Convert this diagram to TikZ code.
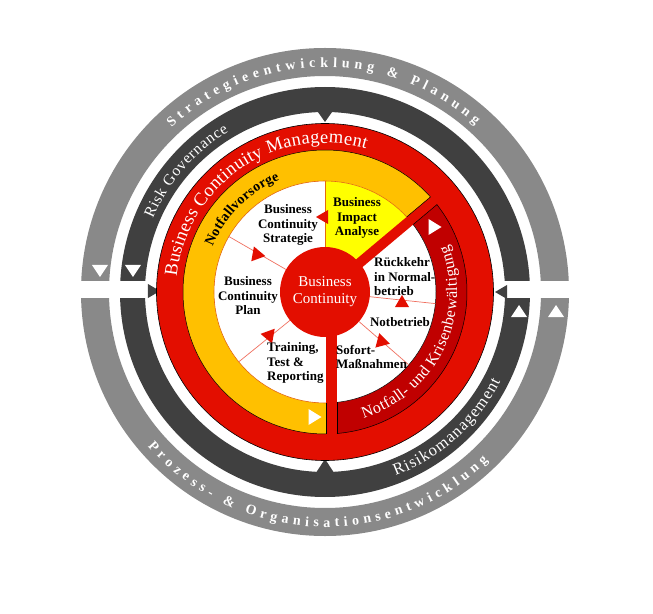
\documentclass[tikz,border=0pt]{standalone}
\usepackage{fontspec}
\setmainfont{Liberation Serif}
\usetikzlibrary{decorations.text}
\definecolor{ringgray}{HTML}{898989}
\definecolor{ringdark}{HTML}{404040}
\definecolor{bcred}{HTML}{E30E00}
\definecolor{bcorange}{HTML}{FFC000}
\definecolor{bcyellow}{HTML}{FFFF00}
\definecolor{bcdark}{HTML}{C00000}
\definecolor{secline}{HTML}{F07060}
\definecolor{orline}{HTML}{E46C0A}
\newcommand\bctri[6]{\fill[#6, shift={(#1,#2)}, rotate=#3] (#4/2,0) -- (-#4/2,#5) -- (-#4/2,-#5) -- cycle;}
\begin{document}
\begin{tikzpicture}[x=1pt,y=1pt,
  intext/.style={font=\fontsize{13}{14.5}\selectfont\bfseries, align=center, inner sep=0pt},
  bandline/.style={black, line width=0.5pt},
  arctext/.style={decorate, decoration={text along path, text align=fit to path, text color=#1}},
  arctext/.default=white]
\useasboundingbox (-325,-321) rectangle (328,292);
% outer rings
\fill[ringgray, even odd rule] (0,0) circle[radius=244] (0,0) circle[radius=216];
\fill[ringdark, even odd rule] (0,0) circle[radius=205] (0,0) circle[radius=180];
\fill[white] (-252,-6) -- (-178,-6) -- (-178,11) -- (-252,11) -- cycle;
\fill[white] (178,-6) -- (252,-6) -- (252,11) -- (178,11) -- cycle;
\bctri{-225}{21}{-90}{12}{8}{white}
\bctri{-192}{21}{-90}{12}{8}{white}
\bctri{194}{-19}{90}{12}{8}{white}
\bctri{231}{-19}{90}{12}{8}{white}
% dark pointers
\fill[ringdark] (0,170) -- (-8.5,182) -- (8.5,182) -- cycle;
\fill[ringdark] (0,-167) -- (-8.5,-180) -- (8.5,-180) -- cycle;
\fill[ringdark] (-165,1) -- (-177,8) -- (-177,-6) -- cycle;
\fill[ringdark] (170,0) -- (182,7) -- (182,-7) -- cycle;
% red disk
\fill[bcred, draw=black, line width=0.6pt] (0,0) circle[radius=168.5];
% bands
\fill[bcorange] (40:142) arc[start angle=40, end angle=275, radius=142] -- (275:111) arc[start angle=275, end angle=40, radius=111] -- cycle;
\fill[bcdark] (-88:142) arc[start angle=-88, end angle=40, radius=142] -- (40:111) arc[start angle=40, end angle=-88, radius=111] -- cycle;
\fill[white] (0,0) circle[radius=111];
\fill[bcyellow] (0,0) -- (40:111) arc[start angle=40, end angle=90, radius=111] -- cycle;
% gaps
\fill[bcred, rotate=40] (40,-5) -- (150,-5) -- (150,5) -- (40,5) -- cycle;
\fill[bcred] (1,-30) -- (12,-30) -- (12,-150) -- (1,-150) -- cycle;
% outlines
\draw[bandline] (42:142) arc[start angle=42, end angle=270.4, radius=142];
\draw[orline, line width=0.6pt] (42.6:111) arc[start angle=42.6, end angle=270.5, radius=111];
\draw[bandline] (-85.15:142) arc[start angle=-85.15, end angle=38, radius=142];
\draw[bandline] (-83.8:111) arc[start angle=-83.8, end angle=37.4, radius=111];
\draw[bandline, rotate=40] (111,5) -- (142,5);
\draw[bandline, rotate=40] (111,-5) -- (142,-5);
\draw[bandline] (1,-111) -- (1,-142);
\draw[bandline] (12,-110.35) -- (12,-141.5);
% sector lines
\foreach \a in {150,219,-41,-6} \draw[secline, line width=0.7pt] (\a:45) -- (\a:111);
\draw[orline, line width=0.7pt] (0.7,45) -- (0.7,111);
% centre
\node[circle, fill=bcred, minimum size=90pt, inner sep=0pt, text=white,
      font=\fontsize{15}{17}\selectfont, align=center] (bc) at (0,0) {Business\\Continuity};
% red pointers
\bctri{-3}{75}{180}{12}{7}{bcred}
\bctri{-66}{37}{-10}{13}{7.5}{bcred}
\bctri{-58}{-43}{170}{13}{7.5}{bcred}
\bctri{55}{-51}{225}{13}{7.5}{bcred}
\bctri{77}{-9}{90}{12}{7}{bcred}
\bctri{110}{65}{0}{13}{8}{white}
\bctri{-10}{-125}{0}{13}{8}{white}
% inner texts
\node[intext] (strat) at (-37,67) {Business\\Continuity\\Strategie};
\node[intext] (bia) at (32,74) {Business\\Impact\\Analyse};
\node[intext] (plan) at (-77,-4) {Business\\Continuity\\Plan};
\node[intext, align=left, anchor=west] (train) at (-58,-71) {Training,\\Test \&\\Reporting};
\node[intext, align=left, anchor=west] (sofort) at (11,-65) {Sofort-\\Maßnahmen};
\node[intext] (notb) at (75,-30) {Notbetrieb};
\node[intext, align=left, anchor=west] (rueck) at (49,15) {Rückkehr\\in Normal-\\betrieb};
% arc texts
\path[arctext, decoration={text={|\fontsize{14}{14}\selectfont\bfseries|Strategieentwicklung {\&} Planung}}]
  (133:225) arc[start angle=133, end angle=48, radius=225];
\path[arctext, decoration={text={|\fontsize{14}{14}\selectfont\bfseries|Prozess- {\&} Organisationsentwicklung}}]
  (-139:235) arc[start angle=-139, end angle=-46, radius=235];
\path[arctext, decoration={text={|\fontsize{15.5}{15.5}\selectfont|Risk Governance}}]
  (157:187) arc[start angle=157, end angle=121, radius=187];
\path[arctext, decoration={text={|\fontsize{16.5}{16.5}\selectfont|Risikomanagement}}]
  (-69:197) arc[start angle=-69, end angle=-27, radius=197];
\path[arctext, decoration={text={|\fontsize{18.5}{18.5}\selectfont|Business Continuity Management}}]
  (174:149) arc[start angle=174, end angle=74, radius=149];
\path[arctext=black, decoration={text={|\fontsize{14}{14}\selectfont\bfseries|Notfallvorsorge}}]
  (158:121) arc[start angle=158, end angle=112, radius=121];
\path[arctext, decoration={text={|\fontsize{16}{16}\selectfont|Notfall- und Krisenbewältigung}}]
  (-73:132) arc[start angle=-73, end angle=21, radius=132];
\end{tikzpicture}
\end{document}
